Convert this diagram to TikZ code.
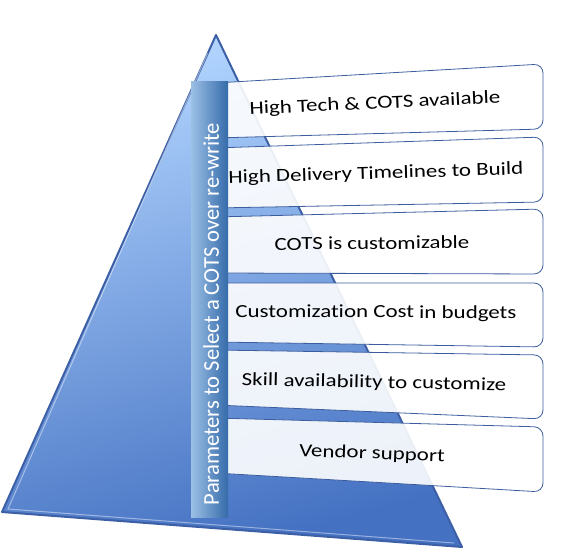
\documentclass[tikz,border=0pt]{standalone}
\usepackage{fontspec}
\setmainfont{Carlito}[Ligatures=NoCommon]
\usepackage{tikz}
\usetikzlibrary{
	backgrounds,									% 图片背景
	calc,											% 坐标计算
	positioning,									% 节点的高级摆放
	shadings,										% 颜色渐变
}
\definecolor{pyrtop}{HTML}{B2D5FF}
\definecolor{pyrbot}{HTML}{4471C2}
\definecolor{pyrline}{HTML}{3C5FA6}
\definecolor{barlight}{HTML}{9CC0E6}
\definecolor{bardark}{HTML}{356BAA}
\definecolor{boxline}{HTML}{3D5E9E}
\tikzset{
	param/.style={font=\fontsize{18.5}{22}\selectfont, inner sep=0pt, anchor=center},
	parambox/.style={draw=boxline, line width=0.8pt, fill=white, fill opacity=0.9, rounded corners=9pt},
}

\begin{document}
\begin{tikzpicture}[x=1pt, y=-1pt]
	\useasboundingbox (0,0) rectangle (562,556);
	% pyramid
	\coordinate (apex) at (216,35);
	\coordinate (bl) at (2,512);
	\coordinate (br) at (462,547);
	\shade[top color=pyrtop, bottom color=pyrbot, shading angle=15] (apex) -- (bl) -- (br) -- cycle;
	\draw[pyrline, line width=2pt, line join=round] (apex) -- (bl) -- (br) -- cycle;
	\draw[white, opacity=0.45, line width=1pt] ($(apex)!0.03!(bl)+(-2,4)$) -- ($(bl)+(6,-3)$) -- ($(br)+(-8,-4)$);
	% boxes: top-left/top-right/bottom-right/bottom-left
	\foreach \tl/\tr/\br/\bl in {83/64/129/138, 148/137/202/208, 217/209/274/273, 283/283/347/342, 350/355/419/405, 418/427/492/473}
		\draw[parambox] (215,\tl) -- (543,\tr) -- (543,\br) -- (215,\bl) -- cycle;
	\node[param, rotate=2.6, xscale=1.24] (tech) at (375,104) {High Tech \& COTS available};
	\node[param, rotate=1.7, xscale=1.24] (timeline) at (376,174) {High Delivery Timelines to Build};
	\node[param, rotate=0.5, xscale=1.24] (custom) at (372,243) {COTS is customizable};
	\node[param, rotate=-0.3, xscale=1.24] (cost) at (376,313) {Customization Cost in budgets};
	\node[param, rotate=-1.2, xscale=1.24] (skill) at (374,383) {Skill availability to customize};
	\node[param, rotate=-2.2, xscale=1.24] (vendor) at (372,454) {Vendor support};
	% side bar
	\shade[left color=barlight, right color=bardark] (191,82) rectangle (228,517);
	\node[param, white, font=\fontsize{22.6}{26}\selectfont, rotate=90] (title) at (211,314) {Parameters to Select a COTS over re-write};
\end{tikzpicture}
\end{document}
